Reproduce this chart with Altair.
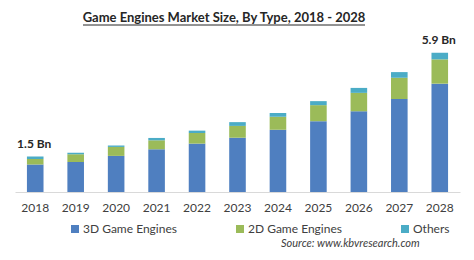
import altair as alt
import pandas as pd

years = ["2018", "2019", "2020", "2021", "2022", "2023", "2024", "2025", "2026", "2027", "2028"]
engines_3d = [1.17, 1.27, 1.53, 1.81, 2.05, 2.30, 2.64, 3.00, 3.42, 3.94, 4.59]
engines_2d = [0.23, 0.33, 0.38, 0.38, 0.45, 0.50, 0.55, 0.68, 0.78, 0.90, 1.03]
others = [0.10, 0.06, 0.06, 0.10, 0.10, 0.16, 0.16, 0.17, 0.21, 0.24, 0.28]
series = ["3D Game Engines", "2D Game Engines", "Others"]
colors = ["#4F7FC0", "#9BBB59", "#4BACC6"]
value_labels = {"2018": "1.5 Bn", "2028": "5.9 Bn"}

rows = []
for i, y in enumerate(years):
    for rank, (name, vals) in enumerate(zip(series, [engines_3d, engines_2d, others])):
        rows.append({"year": y, "type": name, "value": vals[i], "rank": rank})
df = pd.DataFrame(rows)

totals = pd.DataFrame({
    "year": years,
    "total": [a + b + c for a, b, c in zip(engines_3d, engines_2d, others)],
})
totals["label"] = totals["year"].map(value_labels).fillna("")
totals = totals[totals["label"] != ""]

FONT = "Lato"

x_enc = alt.X("year:N", sort=years,
              scale=alt.Scale(paddingInner=0.59, paddingOuter=0.295),
              axis=alt.Axis(title=None, labelAngle=0, ticks=False, grid=False,
                            labelPadding=10, labelFontSize=12, labelColor="#404040",
                            labelFont=FONT, domainColor="#D9D9D9"))
y_scale = alt.Scale(domain=[0, 6.44], nice=False)

bars = alt.Chart(df).mark_bar().encode(
    x=x_enc,
    y=alt.Y("sum(value):Q", scale=y_scale, axis=None),
    color=alt.Color("type:N", scale=alt.Scale(domain=series, range=colors),
                    legend=alt.Legend(title=None, orient="none", direction="horizontal",
                                      legendX=54, legendY=183, symbolType="square",
                                      symbolSize=64, symbolStrokeWidth=0,
                                      labelFontSize=12, labelFont=FONT,
                                      labelColor="#404040", columnPadding=57,
                                      labelOffset=2)),
    order=alt.Order("rank:Q", sort="ascending"),
)

labels = alt.Chart(totals).mark_text(fontSize=12, fontWeight="bold", font=FONT,
                                     color="#262626", dy=-13, dx=-1, baseline="middle").encode(
    x=alt.X("year:N", sort=years),
    y=alt.Y("total:Q", scale=y_scale),
    text="label:N",
)

title = alt.Chart(pd.DataFrame({"t": ["Game Engines Market Size, By Type, 2018 - 2028"]})).mark_text(
    fontSize=13, fontWeight="bold", font=FONT, color="#262626", baseline="middle", align="center"
).encode(x=alt.value(209), y=alt.value(-22), text="t:N")

underline = alt.Chart(pd.DataFrame({"a": [0]})).mark_rule(color="#262626", strokeWidth=1).encode(
    x=alt.value(68), x2=alt.value(350), y=alt.value(-15))

source = alt.Chart(pd.DataFrame({"t": ["Source:  www.kbvresearch.com"]})).mark_text(
    fontSize=11, fontStyle="italic", font=FONT, color="#404040", baseline="middle", align="left"
).encode(x=alt.value(266), y=alt.value(204), text="t:N")

chart = alt.layer(bars, labels, title, underline, source).properties(
    width=445, height=152,
    autosize=alt.AutoSizeParams(type="none"),
    padding={"left": 15, "top": 40, "right": 14, "bottom": 68},
    background="white",
).configure_view(stroke=None)

chart.save("out.html", embed_options={"renderer": "svg", "actions": False})
